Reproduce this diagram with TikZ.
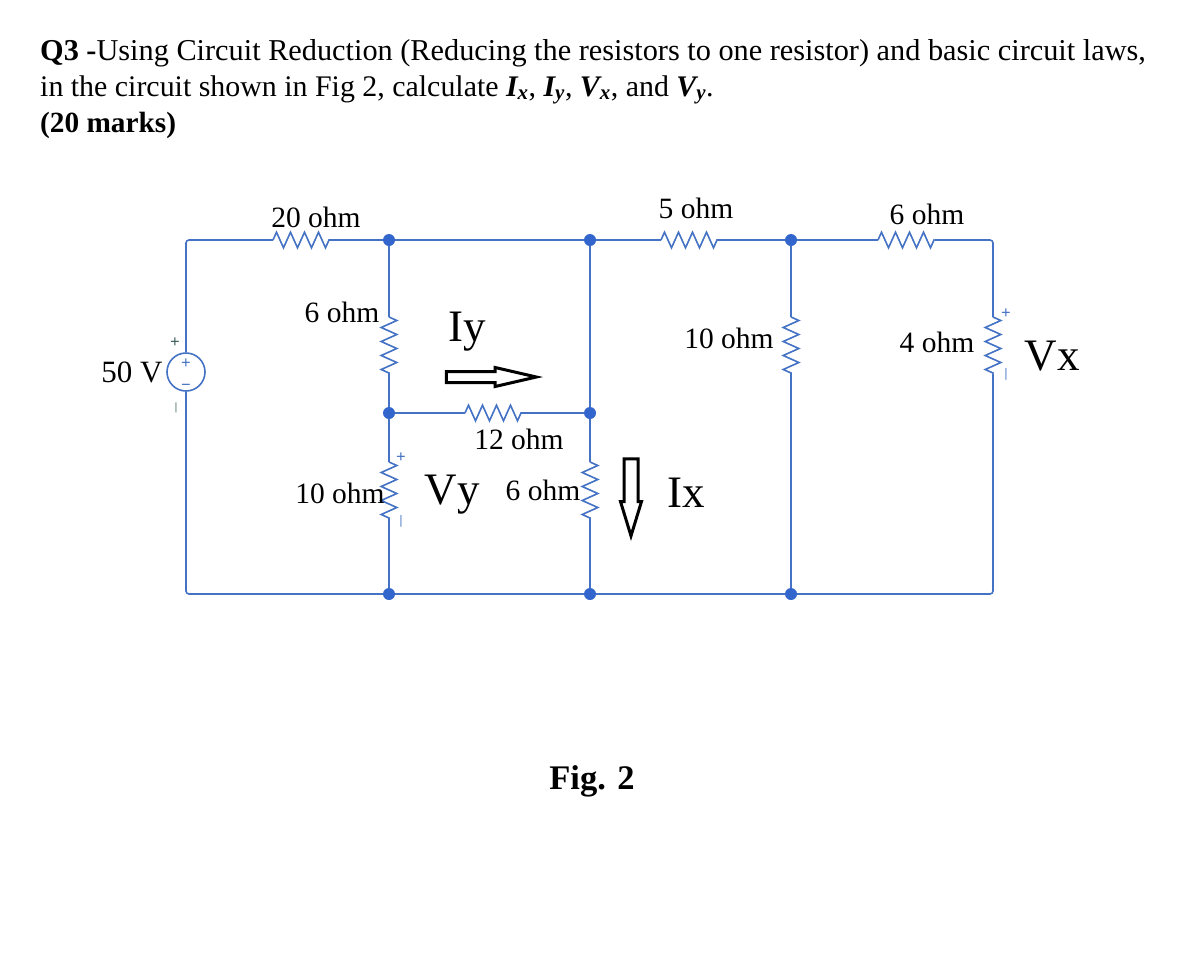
\documentclass[tikz,border=0pt]{standalone}
\usepackage{fontspec}
\setmainfont{Liberation Serif}
\usetikzlibrary{decorations.pathmorphing,shapes.arrows}
\definecolor{wireblue}{HTML}{4472C4}
\definecolor{dotblue}{HTML}{3366CC}
\definecolor{markgrey}{HTML}{3F5F5F}

\begin{document}
\begin{tikzpicture}[x=1pt,y=-1pt,
  wire/.style={draw=wireblue,line width=1.6pt,rounded corners=3pt},
  res/.style={draw=wireblue,line width=1.6pt,decorate,
    decoration={zigzag,amplitude=7.8pt,segment length=14pt}},
  dot node/.style={circle,fill=dotblue,inner sep=0pt,minimum size=12pt},
  source node/.style={circle,draw=wireblue,line width=1.6pt,inner sep=0pt,minimum size=38pt},
  label node/.style={anchor=base,font=\fontsize{29.5}{30}\selectfont},
  big node/.style={anchor=base,font=\fontsize{45}{46}\selectfont},
  title node/.style={anchor=base west,inner sep=0pt},
  mark node/.style={inner sep=0pt,font=\fontsize{17}{17}\selectfont\bfseries,text=wireblue},
  flow node/.style={single arrow,draw=black,line width=3pt,fill=white,inner sep=4pt,
    single arrow head extend=4pt}]
  \useasboundingbox (0,0) rectangle (1200,978);

  % question text
  \node[title node,font=\fontsize{30.3}{31}\selectfont] (q1) at (40,60) {\textbf{Q3 -}Using Circuit Reduction (Reducing the resistors to one resistor) and basic circuit laws,};
  \node[title node,font=\fontsize{29.9}{31}\selectfont] (q2) at (40,96) {in the circuit shown in Fig 2, calculate \textbf{\textit{I\textsubscript{x}}}, \textbf{\textit{I\textsubscript{y}}}, \textbf{\textit{V\textsubscript{x}}}, and \textbf{\textit{V\textsubscript{y}}}.};
  \node[title node,font=\fontsize{29.3}{31}\selectfont] (q3) at (40,132) {\textbf{(20 marks)}};

  % junctions
  \node[dot node] (t1) at (389,240) {};
  \node[dot node] (t2) at (590,240) {};
  \node[dot node] (t3) at (791,240) {};
  \node[dot node] (m1) at (389,413) {};
  \node[dot node] (m2) at (590,413) {};
  \node[dot node] (b1) at (389,594) {};
  \node[dot node] (b2) at (590,594) {};
  \node[dot node] (b3) at (791,594) {};
  \node[source node] (src) at (186,372) {};
  \node[mark node] (srcp) at (186,364) {+};
  \node[mark node] (srcm) at (186,387) {−};

  % resistor ends
  \coordinate (r1a) at (273,240); \coordinate (r1b) at (329.3,240);
  \coordinate (r2a) at (661,240); \coordinate (r2b) at (717.3,240);
  \coordinate (r3a) at (878,240); \coordinate (r3b) at (934.3,240);
  \coordinate (r4a) at (389,317); \coordinate (r4b) at (389,373.3);
  \coordinate (r5a) at (791,317); \coordinate (r5b) at (791,373.3);
  \coordinate (r6a) at (993,317); \coordinate (r6b) at (993,373.3);
  \coordinate (r7a) at (465,413); \coordinate (r7b) at (521.3,413);
  \coordinate (r8a) at (389,462); \coordinate (r8b) at (389,518.3);
  \coordinate (r9a) at (590,462); \coordinate (r9b) at (590,518.3);

  \draw[wire] (src.north) |- (r1a);
  \draw[wire] (src.south) |- (b1);
  \draw[wire] (r3b) -| (r6a);
  \draw[wire] (r6b) |- (b3);
  \path[wire]
    (r1b) edge (t1)
    (t1) edge (t2)
         edge (r4a)
    (t2) edge (r2a)
         edge (m2)
    (r2b) edge (t3)
    (t3) edge (r3a)
         edge (r5a)
    (r5b) edge (b3)
    (r4b) edge (m1)
    (m1) edge (r7a)
         edge (r8a)
    (r7b) edge (m2)
    (m2) edge (r9a)
    (r8b) edge (b1)
    (r9b) edge (b2)
    (b1) edge (b2)
    (b2) edge (b3);
  \path
    (r1a) edge[res] (r1b)
    (r2a) edge[res] (r2b)
    (r3a) edge[res] (r3b)
    (r4a) edge[res] (r4b)
    (r5a) edge[res] (r5b)
    (r6a) edge[res] (r6b)
    (r7a) edge[res] (r7b)
    (r8a) edge[res] (r8b)
    (r9a) edge[res] (r9b);

  % polarity marks
  \node[mark node,text=markgrey] (p1) at (175,343) {+};
  \node[mark node,text=markgrey] (n1) at (176,408) {\fontsize{11}{11}\selectfont|};
  \node[mark node] (p2) at (401,458) {+};
  \node[mark node] (n2) at (401,521) {\fontsize{13}{13}\selectfont|};
  \node[mark node] (p3) at (1006,314) {+};
  \node[mark node] (n3) at (1006,374) {\fontsize{13}{13}\selectfont|};

  % values
  \node[label node] (l1) at (316,227) {20 ohm};
  \node[label node] (l2) at (696,218) {5 ohm};
  \node[label node] (l3) at (927,224) {6 ohm};
  \node[label node] (l4) at (342,322) {6 ohm};
  \node[label node] (l5) at (729,348) {10 ohm};
  \node[label node] (l6) at (937,352) {4 ohm};
  \node[label node] (l7) at (519,449) {12 ohm};
  \node[label node] (l8) at (340,503) {10 ohm};
  \node[label node] (l9) at (543,500) {6 ohm};
  \node[label node,font=\fontsize{31}{32}\selectfont] (l10) at (132,382) {50 V};

  % measured quantities
  \node[big node] (iy) at (467,341) {Iy};
  \node[big node] (vy) at (452,504) {V\kern.5pt y};
  \node[big node] (ix) at (686,507) {Ix};
  \node[big node] (vx) at (1052,370) {Vx};
  \node[flow node,anchor=tip,minimum height=90pt,single arrow tip angle=26] (ay) at (543,377) {};
  \node[flow node,anchor=tip,inner sep=5.5pt,minimum height=77pt,single arrow tip angle=34,single arrow head extend=3.5pt,rotate=-90] (ax) at (631,541) {};

  \node[anchor=base,font=\fontsize{34.5}{36}\selectfont\bfseries] (fig) at (592,789) {Fig. 2};
\end{tikzpicture}
\end{document}
